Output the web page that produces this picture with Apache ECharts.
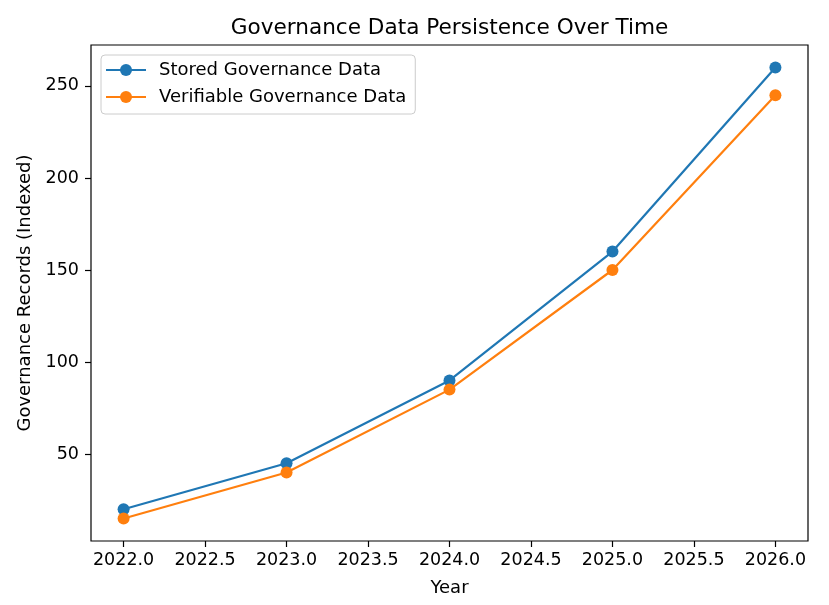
<!DOCTYPE html>
<html><head><meta charset="utf-8">
<script src="https://cdn.jsdelivr.net/npm/echarts@6/dist/echarts.min.js"></script>
<style>html,body{margin:0;padding:0;background:#fff}#c{width:829px;height:605px}</style>
</head><body><div id="c"></div>
<script>
const years = [2022, 2023, 2024, 2025, 2026];
const stored = [20, 45, 90, 160, 260];
const verifiable = [15, 40, 85, 150, 245];
const xTicks = [2022.0, 2022.5, 2023.0, 2023.5, 2024.0, 2024.5, 2025.0, 2025.5, 2026.0];
const yTicks = [50, 100, 150, 200, 250];
const seriesNames = ['Stored Governance Data', 'Verifiable Governance Data'];
const titleText = 'Governance Data Persistence Over Time';

const font = 'DejaVu Sans';
const chart = echarts.init(document.getElementById('c'), null, {renderer: 'canvas'});
chart.setOption({
  animation: false,
  backgroundColor: '#fff',
  graphic: [{type: 'text', x: 449.5, y: 28, silent: true,
    style: {text: titleText, fill: '#000', font: '21.6px "DejaVu Sans"',
      align: 'center', verticalAlign: 'middle', textAlign: 'center', textVerticalAlign: 'middle'}}],
  legend: {orient: 'vertical', left: 101, top: 55, data: seriesNames,
    itemWidth: 40, itemHeight: 15, itemGap: 9,
    padding: [6, 9, 8, 4],
    borderColor: '#cccccc', borderWidth: 1, borderRadius: 4,
    textStyle: {fontFamily: font, fontSize: 18, lineHeight: 18, color: '#000', padding: [0, 0, 0, 8]}},
  grid: {left: 91, right: 21, top: 45, bottom: 64, show: true, borderColor: '#000', borderWidth: 1.2, backgroundColor: 'transparent'},
  xAxis: {type: 'value', min: 2021.8, max: 2026.2,
    name: 'Year', nameLocation: 'middle', nameGap: 38,
    nameTextStyle: {fontFamily: font, fontSize: 18, color: '#000'},
    axisLine: {show: false}, splitLine: {show: false},
    axisTick: {show: true, length: 6, customValues: xTicks, lineStyle: {color: '#000', width: 1.2}},
    axisLabel: {customValues: xTicks, margin: 10, fontFamily: font, fontSize: 17.5, color: '#000',
      formatter: v => v.toFixed(1)}},
  yAxis: {type: 'value', min: 2.75, max: 272.25,
    name: 'Governance Records (Indexed)', nameLocation: 'middle', nameGap: 53,
    nameTextStyle: {fontFamily: font, fontSize: 18, color: '#000'},
    axisLine: {show: false}, splitLine: {show: false},
    axisTick: {show: true, length: 6, customValues: yTicks, lineStyle: {color: '#000', width: 1.2}},
    axisLabel: {customValues: yTicks, margin: 12, fontFamily: font, fontSize: 17.5, color: '#000'}},
  series: [
    {name: seriesNames[0], type: 'line', data: years.map((y, i) => [y, stored[i]]),
     symbol: 'circle', symbolSize: 12, color: '#1f77b4', lineStyle: {width: 2.2}, clip: false},
    {name: seriesNames[1], type: 'line', data: years.map((y, i) => [y, verifiable[i]]),
     symbol: 'circle', symbolSize: 12, color: '#ff7f0e', lineStyle: {width: 2.2}, clip: false}
  ]
});
</script></body></html>
